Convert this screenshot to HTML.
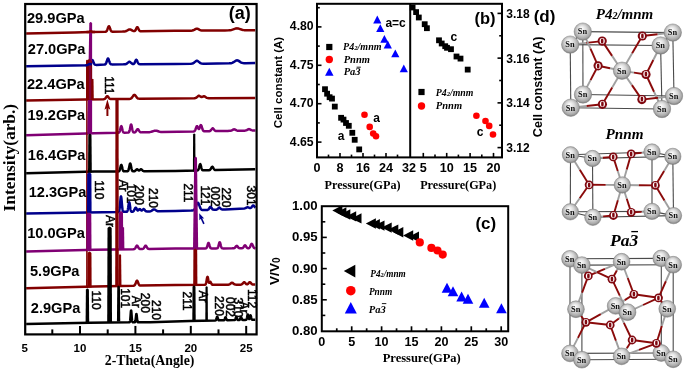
<!DOCTYPE html>
<html><head><meta charset="utf-8"><title>SnO2 high pressure</title>
<style>html,body{margin:0;padding:0;background:#fff;}body{width:685px;height:372px;overflow:hidden;}svg{display:block;}</style>
</head><body>
<svg width="685" height="372" viewBox="0 0 685 372">
<rect width="685" height="372" fill="#fff"/>
<polyline fill="none" stroke="#820000" stroke-width="2.5" stroke-linejoin="round" points="26.2,33.38 74.7,32.41 90.2,32 105.27,31.76 105.82,31.67 106.15,31.53 106.48,31.28 106.81,30.86 107.03,30.46 107.36,29.69 108.13,27.44 108.35,26.89 108.57,26.48 108.68,26.35 108.9,26.23 109.01,26.26 109.2,26.43 109.45,26.87 109.7,27.5 110.22,29.04 110.55,29.92 110.77,30.41 111.1,30.96 111.43,31.31 111.76,31.51 112.2,31.63 112.7,31.67 122.5,31.54 124.7,31.42 125.5,31.28 126.2,31.06 126.9,30.73 128.7,29.69 129.2,29.51 129.7,29.44 130.2,29.49 130.7,29.66 132.5,30.65 133.2,30.95 133.89,31.12 134.44,31.11 134.9,30.91 135.32,30.49 135.76,29.76 136.5,28.11 136.75,27.63 137.08,27.22 137.3,27.13 137.52,27.21 137.85,27.62 138.07,28.03 138.84,29.73 139.17,30.32 139.39,30.61 139.7,30.91 140.05,31.11 140.49,31.22 141.04,31.27 174.7,30.8 191.1,30.65 192.3,30.53 193.2,30.3 194.1,29.91 195.9,28.88 196.5,28.68 196.9,28.64 197.3,28.67 197.9,28.87 199.7,29.87 200.7,30.28 201.7,30.49 202.9,30.57 224.84,30.43 228.7,30.33 229.96,30.22 231.24,29.99 232.52,29.62 235.4,28.59 236.2,28.41 237,28.34 237.7,28.38 238.6,28.56 242.12,29.75 243.08,29.97 244.2,30.13 246.92,30.25 255.2,30.21"/>
<polyline fill="none" stroke="#00008c" stroke-width="2.5" stroke-linejoin="round" points="26.2,66.28 88.67,65.15 89.2,65.06 89.55,64.92 89.88,64.69 90.2,64.31 90.43,63.93 90.7,63.37 91.53,61.16 91.75,60.65 91.97,60.28 92.08,60.15 92.3,60.04 92.52,60.13 92.7,60.35 92.85,60.61 93.07,61.1 93.84,63.11 94.06,63.59 94.28,63.98 94.7,64.49 95.16,64.77 95.6,64.87 96.37,64.89 104.26,64.59 104.81,64.5 105.25,64.31 105.58,64.03 105.91,63.56 106.2,62.97 106.46,62.28 107.2,59.9 107.45,59.2 107.7,58.7 107.89,58.51 108,58.47 108.22,58.58 108.33,58.72 108.55,59.16 108.77,59.75 109.32,61.5 109.65,62.46 109.87,62.99 110.2,63.59 110.53,63.97 110.86,64.19 111.3,64.33 111.85,64.38 123.48,64.31 125.24,64.22 125.88,64.08 126.52,63.8 127.16,63.36 128.6,62.08 129.08,61.83 129.4,61.78 129.72,61.83 130.2,62.07 131.64,63.33 132.23,63.74 132.89,63.99 133.44,64 133.88,63.8 134.1,63.61 134.36,63.28 134.76,62.55 135.48,60.83 135.75,60.27 136.08,59.83 136.3,59.74 136.52,59.83 136.7,60.02 136.85,60.26 137.07,60.71 137.7,62.23 137.95,62.77 138.2,63.21 138.5,63.62 138.83,63.9 139.16,64.07 140.15,64.2 175.2,64 190.9,63.79 192.2,63.62 193.2,63.26 194.1,62.66 195.9,61.12 196.5,60.82 196.9,60.76 197.3,60.81 197.9,61.1 199.7,62.6 200.5,63.12 201.5,63.49 202.5,63.63 205.2,63.66 229.2,63.37 231,63.21 232.25,62.87 233.5,62.22 235.75,60.68 236.5,60.38 237,60.31 237.7,60.42 238.25,60.65 240.5,62.15 241.25,62.56 242,62.85 243,63.08 244,63.17 245.5,63.21 255.2,63.11"/>
<polyline fill="none" stroke="#820000" stroke-width="2.5" stroke-linejoin="round" points="26.2,100.58 84.7,99.41 103.46,99.18 104.3,99.05 104.66,98.91 105.02,98.68 105.62,98.04 106.7,96.51 107.06,96.21 107.3,96.15 107.54,96.21 107.9,96.5 108.98,98.01 109.46,98.53 110.06,98.91 110.66,99.06 112.2,99.1 129.2,98.89 130.4,98.72 130.88,98.53 131.36,98.23 131.7,97.92 132.16,97.37 133.2,95.85 133.6,95.33 134.08,94.93 134.4,94.85 134.72,94.93 135.2,95.31 135.52,95.71 136.7,97.4 137.12,97.88 137.44,98.16 137.92,98.46 138.4,98.63 139.68,98.78 174.7,98.4 194.1,98.28 195.06,98.16 195.86,97.89 196.66,97.35 198.1,96.08 198.56,95.83 198.9,95.77 199.2,95.8 199.52,95.92 200.82,96.78 201.46,97.01 202.1,96.94 203.54,96.3 204,96.24 204.32,96.29 204.96,96.58 206.2,97.47 206.88,97.85 207.7,98.1 208.8,98.21 255.2,98"/>
<polyline fill="none" stroke="#800074" stroke-width="2.5" stroke-linejoin="round" points="26.2,135.17 94.7,133.21 118.24,132.77 118.7,132.68 119.05,132.49 119.32,132.19 119.59,131.68 119.77,131.21 120.04,130.28 120.67,127.58 120.85,126.92 121.03,126.43 121.12,126.27 121.3,126.14 121.48,126.27 121.57,126.43 121.75,126.91 121.93,127.56 122.56,130.24 122.83,131.16 123.1,131.82 123.28,132.12 123.46,132.33 123.82,132.56 124.36,132.67 128.04,132.6 128.49,132.49 128.85,132.25 129.12,131.88 129.39,131.27 129.57,130.69 129.84,129.55 130.02,128.64 130.47,126.24 130.65,125.43 130.83,124.83 130.92,124.63 131.1,124.47 131.28,124.63 131.37,124.82 131.55,125.41 131.73,126.22 132.18,128.61 132.36,129.51 132.63,130.63 132.81,131.21 133.08,131.81 133.35,132.17 133.7,132.39 134.07,132.45 134.82,132.32 135.42,131.95 135.7,131.66 136.02,131.24 136.86,129.88 137.1,129.55 137.46,129.22 137.7,129.15 137.94,129.21 138.3,129.53 138.54,129.86 139.38,131.18 139.7,131.59 139.98,131.87 140.34,132.11 140.7,132.26 141.54,132.37 147.4,132.27 149.7,132.13 151.4,131.8 154.2,130.83 155.4,130.64 155.9,130.66 156.65,130.8 158.9,131.52 159.9,131.77 160.9,131.91 162.2,131.99 193.48,131.47 193.92,131.39 194.25,131.26 194.58,131.01 194.91,130.61 195.2,130.09 195.46,129.48 196.2,127.39 196.45,126.78 196.67,126.38 196.83,126.21 197.05,126.14 197.33,126.34 197.6,126.8 198.2,128.19 198.43,128.64 198.7,128.96 198.92,129.01 199.14,128.86 199.42,128.39 199.69,127.7 200.24,126.06 200.46,125.54 200.68,125.19 200.9,125.07 201.01,125.11 201.18,125.28 201.45,125.81 201.7,126.53 202.44,129 202.7,129.7 202.99,130.31 203.32,130.79 203.65,131.06 203.98,131.21 204.42,131.29 208.62,131.25 209.34,131.19 209.82,131.08 210.3,130.84 210.66,130.54 211.02,130.13 212.1,128.65 212.46,128.36 212.7,128.29 212.94,128.35 213.3,128.63 214.38,130.08 214.98,130.68 215.58,130.99 216.42,131.11 227.76,130.95 229.84,130.87 230.64,130.74 231.2,130.57 231.76,130.33 233.2,129.54 233.68,129.39 234,129.35 234.7,129.48 236.56,130.39 237.7,130.69 239.28,130.76 244.36,130.66 245.32,130.56 246.12,130.36 246.76,130.09 248.2,129.3 248.68,129.15 249,129.11 249.32,129.14 249.8,129.28 251.4,130.09 252.36,130.39 253.48,130.51 255.4,130.51"/>
<polyline fill="none" stroke="#000000" stroke-width="2.5" stroke-linejoin="round" points="26.2,173.27 94.7,171.61 118.24,171.41 118.7,171.32 119.05,171.13 119.32,170.84 119.59,170.35 119.77,169.88 120.04,168.97 120.67,166.32 120.85,165.67 121.03,165.19 121.12,165.03 121.3,164.9 121.48,165.03 121.57,165.19 121.7,165.51 121.93,166.31 122.47,168.6 122.74,169.58 123.01,170.32 123.19,170.67 123.37,170.93 123.73,171.21 124.2,171.34 127.14,171.33 127.59,171.24 127.95,171.01 128.22,170.66 128.49,170.07 128.7,169.4 128.94,168.42 129.57,165.24 129.75,164.46 129.93,163.88 130.02,163.69 130.2,163.54 130.38,163.69 130.47,163.88 130.65,164.45 130.83,165.23 131.28,167.53 131.55,168.79 131.73,169.49 132,170.27 132.27,170.77 132.54,171.05 132.9,171.23 133.35,171.29 134.25,171.22 134.91,170.97 135.46,170.55 136.45,169.52 136.71,169.35 137,169.28 137.44,169.42 138.47,170.31 138.76,170.46 138.98,170.5 139.24,170.46 139.53,170.31 140.63,169.36 140.89,169.26 141.18,169.28 141.66,169.58 142.54,170.49 143.09,170.91 143.75,171.15 144.63,171.22 175.2,171 197.2,170.48 197.59,170.4 197.95,170.21 198.22,169.92 198.49,169.44 198.7,168.9 198.94,168.1 199.57,165.52 199.75,164.89 199.93,164.42 200.02,164.27 200.2,164.14 200.38,164.26 200.47,164.41 200.65,164.87 200.83,165.49 201.46,168.05 201.7,168.84 201.91,169.37 202.18,169.84 202.45,170.11 202.72,170.26 203.17,170.35 208.34,170.25 209.11,170.19 209.55,170.08 209.99,169.85 210.43,169.41 210.76,168.93 211.53,167.53 211.75,167.18 212.08,166.84 212.3,166.77 212.52,166.83 212.85,167.16 213.07,167.49 213.84,168.86 214.17,169.33 214.39,169.57 214.94,169.92 215.71,170.07 255.2,169.22"/>
<polyline fill="none" stroke="#00008c" stroke-width="2.5" stroke-linejoin="round" points="26.2,213.58 118.2,211.96 118.6,211.81 118.76,211.68 118.92,211.45 119.16,210.88 119.32,210.27 119.4,209.88 119.56,208.9 119.64,208.31 119.8,206.93 119.88,206.15 120.04,204.42 120.28,201.62 120.44,199.82 120.52,199.01 120.6,198.27 120.7,197.5 120.76,197.13 120.84,196.75 120.92,196.52 121,196.44 121.08,196.52 121.2,196.92 121.32,197.63 121.4,198.26 121.48,198.99 121.56,199.8 121.7,201.36 121.96,204.38 122.12,206.11 122.2,206.89 122.36,208.27 122.44,208.85 122.6,209.82 122.7,210.29 122.84,210.81 123.08,211.38 123.24,211.6 123.4,211.73 123.88,211.87 126.56,211.81 127.04,211.59 127.2,211.41 127.36,211.15 127.52,210.77 127.68,210.25 127.84,209.56 127.92,209.15 128.16,207.7 128.64,204.3 128.8,203.34 128.88,202.95 128.96,202.63 129.04,202.39 129.12,202.25 129.2,202.2 129.28,202.25 129.36,202.39 129.44,202.62 129.6,203.32 129.76,204.28 130.2,207.39 130.4,208.66 130.56,209.51 130.7,210.12 130.8,210.47 131.04,211.09 131.28,211.44 131.6,211.65 131.96,211.72 132.51,211.68 132.95,211.56 133.28,211.37 133.61,211.07 133.83,210.78 134.16,210.21 134.93,208.57 135.15,208.17 135.41,207.83 135.7,207.68 135.92,207.76 136.18,208.03 136.4,208.38 137.2,209.89 137.46,210.23 137.72,210.42 137.94,210.45 138.23,210.34 138.49,210.11 139.22,209.33 139.48,209.16 139.7,209.11 139.92,209.15 140.19,209.32 140.96,210.16 141.24,210.4 141.51,210.53 141.79,210.52 142.23,210.24 143.16,209.23 143.44,209.07 143.66,209.05 143.88,209.12 144.15,209.33 145.2,210.65 145.69,211.1 146.24,211.36 147.01,211.47 149.36,211.42 150.64,211.21 151.6,210.76 153.2,209.62 153.68,209.41 154,209.37 154.32,209.4 154.8,209.59 156.24,210.58 157.04,210.99 157.84,211.19 158.8,211.26 175.2,210.99 191.2,210.48 192.7,210.39 193.48,210.21 193.96,209.97 194.44,209.55 194.76,209.13 195.2,208.35 195.56,207.53 196.68,204.44 197,203.68 197.2,203.3 197.48,202.93 197.8,202.77 197.96,202.8 198.2,202.99 198.44,203.33 198.6,203.63 198.92,204.36 200.04,207.38 200.52,208.42 200.84,208.94 201.2,209.38 201.64,209.73 202.12,209.94 202.76,210.05 203.88,210.07 206.65,209.98 207.31,209.92 207.86,209.78 208.3,209.53 208.63,209.22 208.96,208.79 209.95,207.23 210.2,206.98 210.5,206.86 210.72,206.92 211.05,207.2 212.04,208.69 212.59,209.3 213.2,209.63 214.02,209.73 216,209.67 216.88,209.48 217.32,209.25 217.65,208.99 218.75,207.84 219.08,207.63 219.3,207.58 219.52,207.61 219.85,207.8 220.84,208.78 221.39,209.19 221.94,209.39 222.71,209.46 225.2,209.39 244.31,208.39 244.97,208.3 245.52,208.14 246.95,207.38 247.5,207.24 248.05,207.33 249.46,207.93 250.23,207.99 250.78,207.84 251.22,207.55 251.66,207.08 252.65,205.77 252.98,205.51 253.2,205.44 253.42,205.48 253.7,205.66 253.97,205.95 254.85,207.05 255.18,207.35 255.51,207.55"/>
<polyline fill="none" stroke="#800074" stroke-width="2.5" stroke-linejoin="round" points="26.2,251.57 94.7,249.81 133.26,249.17 134.25,249.01 134.58,248.85 134.91,248.58 135.2,248.23 135.46,247.83 136.2,246.44 136.45,246.04 136.7,245.75 137,245.62 137.22,245.68 137.55,246.02 137.77,246.37 138.54,247.78 138.87,248.26 139.09,248.51 139.42,248.77 139.7,248.9 140.52,249.04 142.3,248.99 142.85,248.88 143.2,248.71 143.62,248.36 143.95,247.93 145.05,246.07 145.38,245.75 145.6,245.68 145.82,245.74 146.15,246.06 146.37,246.38 147.2,247.81 147.69,248.4 148.02,248.64 148.35,248.79 149.12,248.9 175.2,248.5 205.35,248.41 205.8,248.36 206.16,248.24 206.43,248.03 206.7,247.68 206.97,247.12 207.2,246.48 207.87,244.11 208.05,243.56 208.2,243.22 208.32,243.03 208.5,242.92 208.7,243.05 208.95,243.56 209.2,244.35 209.7,246.15 210.03,247.12 210.21,247.51 210.39,247.81 210.75,248.17 211.11,248.33 211.7,248.4 216.55,248.38 217,248.33 217.36,248.18 217.63,247.95 217.9,247.55 218.17,246.93 218.35,246.38 218.62,245.37 219.07,243.54 219.25,242.92 219.43,242.46 219.52,242.31 219.7,242.19 219.88,242.31 219.97,242.46 220.15,242.92 220.33,243.54 220.96,246.06 221.2,246.84 221.41,247.37 221.59,247.7 221.86,248.04 222.13,248.22 222.49,248.33 223.3,248.38 232.2,248.36 233.73,248.29 234.28,248.13 234.72,247.86 235.16,247.41 236.15,246.14 236.48,245.9 236.7,245.85 236.92,245.9 237.2,246.09 238.46,247.65 238.79,247.93 239.12,248.12 240,248.31 241.81,248.29 242.47,248.12 243.02,247.74 243.46,247.21 244.45,245.68 244.7,245.44 245,245.33 245.22,245.39 245.55,245.68 246.54,247.2 247.09,247.83 247.41,248.05 247.74,248.18 248.52,248.23 248.85,248.15 249.17,248 249.4,247.81 249.7,247.45 249.94,247.06 250.16,246.63 250.93,244.79 251.15,244.34 251.48,243.9 251.7,243.81 251.92,243.9 252.25,244.34 252.47,244.79 253.02,246.12 253.35,246.85 253.57,247.25 253.9,247.7 254.2,247.96 254.56,248.15 255.55,248.29"/>
<polyline fill="none" stroke="#820000" stroke-width="2.5" stroke-linejoin="round" points="26.2,288.27 94.7,286.41 133.26,285.72 133.81,285.65 134.25,285.49 134.58,285.26 134.91,284.88 135.2,284.39 135.46,283.82 136.2,281.84 136.45,281.26 136.7,280.85 136.89,280.69 137,280.66 137.22,280.76 137.33,280.88 137.55,281.24 137.77,281.74 138.54,283.76 138.87,284.45 139.09,284.81 139.42,285.18 139.7,285.37 140.08,285.51 140.52,285.57 175.2,285 204.62,284.84 205.1,284.76 205.42,284.58 205.66,284.28 205.9,283.76 206.14,282.96 206.3,282.25 206.54,280.95 206.94,278.58 207.1,277.78 207.2,277.38 207.34,277 207.5,276.83 207.66,276.98 207.82,277.43 207.9,277.74 208.06,278.52 208.46,280.73 208.62,281.5 208.78,282.12 208.86,282.35 209.02,282.68 209.18,282.82 209.34,282.8 209.5,282.66 210.06,281.91 210.22,281.82 210.38,281.83 210.54,281.95 210.7,282.17 211.42,283.69 211.74,284.22 212.14,284.6 212.62,284.77 213.5,284.81 225.7,284.75 228.22,284.68 228.92,284.56 229.48,284.34 230.04,283.98 231.3,282.96 231.7,282.77 232,282.72 232.56,282.87 232.98,283.15 234.24,284.15 234.7,284.39 235.22,284.56 236.62,284.69 240.7,284.64 241.44,284.49 242.04,284.17 242.52,283.73 243.6,282.45 243.96,282.21 244.2,282.16 244.44,282.21 244.8,282.45 245.84,283.66 246.24,284.03 246.68,284.27 247.08,284.31 247.44,284.22 247.8,283.99 248.2,283.6 249.2,282.43 249.56,282.18 249.8,282.13 250.04,282.18 250.4,282.42 251.6,283.81 251.96,284.13 252.32,284.34 252.8,284.51 253.28,284.58 255.2,284.6"/>
<polyline fill="none" stroke="#000000" stroke-width="2.5" stroke-linejoin="round" points="26.2,323.88 89.7,322.81 129.3,322.29 129.6,322.17 129.8,321.9 129.95,321.46 130.05,321 130.1,320.7 130.2,319.96 130.25,319.52 130.35,318.47 130.5,316.55 130.75,313.06 130.85,311.88 130.9,311.4 130.95,311.01 131,310.73 131.05,310.55 131.1,310.49 131.15,310.55 131.2,310.73 131.25,311.01 131.3,311.4 131.35,311.88 131.45,313.06 131.7,316.55 131.85,318.46 131.95,319.51 132,319.95 132.1,320.69 132.15,320.99 132.25,321.45 132.35,321.77 132.45,321.98 132.65,322.19 132.95,322.27 134.7,322.25 135,322.11 135.2,321.81 135.3,321.54 135.4,321.15 135.55,320.32 135.7,319.16 135.8,318.23 136.05,315.77 136.15,314.94 136.25,314.33 136.3,314.13 136.35,314.01 136.4,313.97 136.45,314.01 136.5,314.13 136.55,314.33 136.65,314.94 136.75,315.77 137,318.22 137.15,319.57 137.25,320.31 137.4,321.14 137.55,321.67 137.75,322.04 137.95,322.19 138.3,322.25 150.2,322.19 189.7,320.91 215.1,320.44 215.64,320.31 215.82,320.17 216,319.93 216.18,319.55 216.3,319.22 216.78,317.52 216.9,317.15 217.08,316.78 217.2,316.71 217.32,316.78 217.5,317.13 217.62,317.5 218.04,319 218.2,319.46 218.34,319.78 218.52,320.05 218.7,320.22 219.12,320.35 223.22,320.29 223.94,320.18 224.2,319.99 224.42,319.68 224.66,319.14 225.2,317.61 225.38,317.32 225.5,317.25 225.62,317.31 225.8,317.6 226.34,319.11 226.58,319.64 226.88,320.02 227.24,320.18 233.9,320.1 234.68,320.01 234.98,319.82 235.22,319.48 235.46,318.95 236,317.42 236.18,317.12 236.3,317.06 236.42,317.12 236.6,317.41 237.2,319.07 237.38,319.44 237.62,319.77 237.86,319.93 238.1,319.99 239.14,319.98 239.56,319.83 239.86,319.5 240.16,318.86 240.7,317.33 240.88,317.03 241,316.97 241.12,317.03 241.3,317.32 241.84,318.83 242.02,319.25 242.2,319.54 242.44,319.78 242.7,319.89 243.04,319.93 245.64,319.88 246,319.82 246.24,319.69 246.42,319.49 246.6,319.14 246.78,318.59 246.9,318.11 247.08,317.23 247.38,315.63 247.5,315.09 247.62,314.69 247.68,314.56 247.8,314.45 247.92,314.55 247.98,314.68 248.1,315.08 248.22,315.61 248.58,317.49 248.76,318.26 248.94,318.79 249.12,319.03 249.3,318.98 249.48,318.65 249.7,317.93 250.08,316.28 250.2,315.83 250.38,315.39 250.5,315.3 250.62,315.39 250.7,315.54 250.8,315.82 250.92,316.27 251.34,318.1 251.52,318.72 251.7,319.17 251.94,319.52 252.2,319.69 252.54,319.75 255.2,319.71"/>
<path d="M86.1,288 L86.15,60.25 Q86.9,59.05 87.65,60.25 L87.7,288 Z" fill="#820000"/>
<path d="M89.3,23.4 Q90.7,20.6 92.1,23.4 L92.1,134 L87.3,134 Z" fill="#800074"/>
<path d="M86.5,32.1 L89,32.0 Q90.8,30.6 92.5,31.9 L95,31.9" fill="none" stroke="#820000" stroke-width="2.5"/>
<path d="M86,100 L86.2,61.5 Q89.1,56.86 92,61.5 L92.2,100 Z" fill="#820000"/>
<rect x="88.9" y="60.5" width="2.5" height="39" fill="#800074" opacity="0.45"/>
<path d="M91.4,100 L91.7,79.5 Q92.6,78.06 93.5,79.5 L93.8,100 Z" fill="#820000"/>
<path d="M85.5,65.3 L87.5,65.1 Q89.8,63.2 92,64.6" fill="none" stroke="#00008c" stroke-width="2.5"/>
<path d="M88,172.5 L88.3,135.1 Q89.9,132.54 91.5,135.1 L91.8,172.5 Z" fill="#000000"/>
<path d="M87,212.5 L87.2,174.1 Q89.3,170.74 91.4,174.1 L91.6,212.5 Z" fill="#00008c"/>
<path d="M86.3,251 L86.5,214.4 Q88.9,210.56 91.3,214.4 L91.5,251 Z" fill="#800074"/>
<path d="M87.35,287.5 L87.55,252.95 Q89.5,249.83 91.45,252.95 L91.65,287.5 Z" fill="#820000"/>
<path d="M85.6,322.5 L85.9,289.8 Q87.4,287.4 88.9,289.8 L89.2,322.5 Z" fill="#000000"/>
<path d="M107.2,322 L107.5,228.1 Q109.6,224.74 111.7,228.1 L112,322 Z" fill="#000000"/>
<path d="M115.2,286 L115.4,99.2 Q117,96.64 118.6,99.2 L118.8,286 Z" fill="#820000"/>
<path d="M118.5,286 L118.9,255.1 Q120,253.34 121.1,255.1 L121.5,286 Z" fill="#820000"/>
<path d="M118.7,250 L119,212.5 Q121,209.3 123,212.5 L123.3,250 Z" fill="#800074"/>
<path d="M122,250 L122.3,227.7 Q123.2,226.26 124.1,227.7 L124.4,250 Z" fill="#800074"/>
<path d="M116.95,321.5 L117.25,286.75 Q118.6,284.59 119.95,286.75 L120.25,321.5 Z" fill="#000000"/>
<path d="M192.9,171.5 L193.1,134.5 Q194.2,132.74 195.3,134.5 L195.5,171.5 Z" fill="#000000"/>
<path d="M193,249.5 L194.2,157.9 Q195.6,155.66 197,157.9 L198.2,249.5 Z" fill="#800074"/>
<path d="M193.2,285.5 L193.4,249.9 Q195.3,246.86 197.2,249.9 L197.4,285.5 Z" fill="#820000"/>
<path d="M192.3,320.5 L192.5,286.8 Q194,284.4 195.5,286.8 L195.7,320.5 Z" fill="#000000"/>
<path d="M205.3,320.5 L205.5,287.1 Q206.6,285.34 207.7,287.1 L207.9,320.5 Z" fill="#000000"/>
<rect x="25.2" y="4" width="231.4" height="330.4" fill="none" stroke="#000" stroke-width="2.2"/>
<line x1="80" y1="334.4" x2="80" y2="325.9" stroke="#000" stroke-width="2" stroke-linecap="butt"/>
<line x1="135.4" y1="334.4" x2="135.4" y2="325.9" stroke="#000" stroke-width="2" stroke-linecap="butt"/>
<line x1="190.8" y1="334.4" x2="190.8" y2="325.9" stroke="#000" stroke-width="2" stroke-linecap="butt"/>
<line x1="246.2" y1="334.4" x2="246.2" y2="325.9" stroke="#000" stroke-width="2" stroke-linecap="butt"/>
<line x1="52.3" y1="334.4" x2="52.3" y2="329.4" stroke="#000" stroke-width="2" stroke-linecap="butt"/>
<line x1="107.7" y1="334.4" x2="107.7" y2="329.4" stroke="#000" stroke-width="2" stroke-linecap="butt"/>
<line x1="163.1" y1="334.4" x2="163.1" y2="329.4" stroke="#000" stroke-width="2" stroke-linecap="butt"/>
<line x1="218.5" y1="334.4" x2="218.5" y2="329.4" stroke="#000" stroke-width="2" stroke-linecap="butt"/>
<text x="24.6" y="351.5" font-family="'Liberation Sans', Arial, sans-serif" font-size="11.5" font-weight="bold" font-style="normal" text-anchor="middle" fill="#000">5</text>
<text x="80" y="351.5" font-family="'Liberation Sans', Arial, sans-serif" font-size="11.5" font-weight="bold" font-style="normal" text-anchor="middle" fill="#000">10</text>
<text x="135.4" y="351.5" font-family="'Liberation Sans', Arial, sans-serif" font-size="11.5" font-weight="bold" font-style="normal" text-anchor="middle" fill="#000">15</text>
<text x="190.8" y="351.5" font-family="'Liberation Sans', Arial, sans-serif" font-size="11.5" font-weight="bold" font-style="normal" text-anchor="middle" fill="#000">20</text>
<text x="246.2" y="351.5" font-family="'Liberation Sans', Arial, sans-serif" font-size="11.5" font-weight="bold" font-style="normal" text-anchor="middle" fill="#000">25</text>
<text x="149.6" y="364.7" font-family="'Liberation Serif', 'Times New Roman', serif" font-size="13.8" font-weight="bold" font-style="normal" text-anchor="middle" fill="#000">2-Theta(Angle)</text>
<text x="14.8" y="157.7" font-family="'Liberation Serif', 'Times New Roman', serif" font-size="17.4" font-weight="bold" font-style="normal" text-anchor="middle" fill="#000" transform="rotate(-90 14.8 157.7)">Intensity(arb.)</text>
<text x="239.8" y="18.8" font-family="'Liberation Sans', Arial, sans-serif" font-size="18" font-weight="bold" font-style="normal" text-anchor="middle" fill="#000">(a)</text>
<text x="27" y="23.4" font-family="'Liberation Sans', Arial, sans-serif" font-size="14.6" font-weight="bold" font-style="normal" text-anchor="start" fill="#000">29.9GPa</text>
<text x="27.8" y="53.8" font-family="'Liberation Sans', Arial, sans-serif" font-size="14.6" font-weight="bold" font-style="normal" text-anchor="start" fill="#000">27.0GPa</text>
<text x="27" y="88.8" font-family="'Liberation Sans', Arial, sans-serif" font-size="14.6" font-weight="bold" font-style="normal" text-anchor="start" fill="#000">22.4GPa</text>
<text x="27.5" y="120.2" font-family="'Liberation Sans', Arial, sans-serif" font-size="14.6" font-weight="bold" font-style="normal" text-anchor="start" fill="#000">19.2GPa</text>
<text x="27.8" y="159.8" font-family="'Liberation Sans', Arial, sans-serif" font-size="14.6" font-weight="bold" font-style="normal" text-anchor="start" fill="#000">16.4GPa</text>
<text x="28.7" y="196.8" font-family="'Liberation Sans', Arial, sans-serif" font-size="14.6" font-weight="bold" font-style="normal" text-anchor="start" fill="#000">12.3GPa</text>
<text x="27.2" y="238" font-family="'Liberation Sans', Arial, sans-serif" font-size="14.6" font-weight="bold" font-style="normal" text-anchor="start" fill="#000">10.0GPa</text>
<text x="30" y="275.8" font-family="'Liberation Sans', Arial, sans-serif" font-size="14.6" font-weight="bold" font-style="normal" text-anchor="start" fill="#000">5.9GPa</text>
<text x="30.8" y="313.2" font-family="'Liberation Sans', Arial, sans-serif" font-size="14.6" font-weight="bold" font-style="normal" text-anchor="start" fill="#000">2.9GPa</text>
<text x="0" y="0" font-family="'Liberation Sans', Arial, sans-serif" font-size="12" stroke="#000" stroke-width="0.5" transform="translate(105 76.3) rotate(90)">111</text>
<text x="0" y="0" font-family="'Liberation Sans', Arial, sans-serif" font-size="12" stroke="#000" stroke-width="0.5" transform="translate(95 180.3) rotate(90)">110</text>
<text x="0" y="0" font-family="'Liberation Sans', Arial, sans-serif" font-size="12" stroke="#000" stroke-width="0.5" transform="translate(118.7 179.6) rotate(90)">Ar</text>
<text x="0" y="0" font-family="'Liberation Sans', Arial, sans-serif" font-size="12" stroke="#000" stroke-width="0.5" transform="translate(126.5 183.5) rotate(90)">101</text>
<text x="0" y="0" font-family="'Liberation Sans', Arial, sans-serif" font-size="12" stroke="#000" stroke-width="0.5" transform="translate(135.3 184.9) rotate(90)">200</text>
<text x="0" y="0" font-family="'Liberation Sans', Arial, sans-serif" font-size="12" stroke="#000" stroke-width="0.5" transform="translate(148.9 188) rotate(90)">210</text>
<text x="0" y="0" font-family="'Liberation Sans', Arial, sans-serif" font-size="12" stroke="#000" stroke-width="0.5" transform="translate(184 183.4) rotate(90)">211</text>
<text x="0" y="0" font-family="'Liberation Sans', Arial, sans-serif" font-size="12" stroke="#000" stroke-width="0.5" transform="translate(200.8 185.4) rotate(90)">121</text>
<text x="0" y="0" font-family="'Liberation Sans', Arial, sans-serif" font-size="12" stroke="#000" stroke-width="0.5" transform="translate(211 186.6) rotate(90)">002</text>
<text x="0" y="0" font-family="'Liberation Sans', Arial, sans-serif" font-size="12" stroke="#000" stroke-width="0.5" transform="translate(221.7 187.4) rotate(90)">220</text>
<text x="0" y="0" font-family="'Liberation Sans', Arial, sans-serif" font-size="12" stroke="#000" stroke-width="0.5" transform="translate(247.1 185.6) rotate(90)">301</text>
<text x="0" y="0" font-family="'Liberation Sans', Arial, sans-serif" font-size="12" stroke="#000" stroke-width="0.5" transform="translate(105.5 215) rotate(90)">Ar</text>
<text x="0" y="0" font-family="'Liberation Sans', Arial, sans-serif" font-size="12" stroke="#000" stroke-width="0.5" transform="translate(91.6 290.6) rotate(90)">110</text>
<text x="0" y="0" font-family="'Liberation Sans', Arial, sans-serif" font-size="12" stroke="#000" stroke-width="0.5" transform="translate(121.4 288.2) rotate(90)">101</text>
<text x="0" y="0" font-family="'Liberation Sans', Arial, sans-serif" font-size="12" stroke="#000" stroke-width="0.5" transform="translate(132 295.8) rotate(90)">Ar</text>
<text x="0" y="0" font-family="'Liberation Sans', Arial, sans-serif" font-size="12" stroke="#000" stroke-width="0.5" transform="translate(141 292.8) rotate(90)">200</text>
<text x="0" y="0" font-family="'Liberation Sans', Arial, sans-serif" font-size="12" stroke="#000" stroke-width="0.5" transform="translate(152.3 300) rotate(90)">210</text>
<text x="0" y="0" font-family="'Liberation Sans', Arial, sans-serif" font-size="12" stroke="#000" stroke-width="0.5" transform="translate(182.6 291.6) rotate(90)">211</text>
<text x="0" y="0" font-family="'Liberation Sans', Arial, sans-serif" font-size="12" stroke="#000" stroke-width="0.5" transform="translate(198.8 290.6) rotate(90)">Ar</text>
<text x="0" y="0" font-family="'Liberation Sans', Arial, sans-serif" font-size="12" stroke="#000" stroke-width="0.5" transform="translate(214.8 295.9) rotate(90)">220</text>
<text x="0" y="0" font-family="'Liberation Sans', Arial, sans-serif" font-size="12" stroke="#000" stroke-width="0.5" transform="translate(225.6 297) rotate(90)">002</text>
<text x="0" y="0" font-family="'Liberation Sans', Arial, sans-serif" font-size="12" stroke="#000" stroke-width="0.5" transform="translate(233.6 297.5) rotate(90)">310</text>
<text x="0" y="0" font-family="'Liberation Sans', Arial, sans-serif" font-size="12" stroke="#000" stroke-width="0.5" transform="translate(239.8 301.5) rotate(90)">Ar</text>
<text x="0" y="0" font-family="'Liberation Sans', Arial, sans-serif" font-size="12" stroke="#000" stroke-width="0.5" transform="translate(248.3 289) rotate(90)">112</text>
<line x1="107.4" y1="106" x2="107.4" y2="116" stroke="#820000" stroke-width="2"/>
<polygon points="107.4,99.2 110.3,109.8 107.4,107.8 104.5,109.8" fill="#820000"/>
<line x1="203.9" y1="223.9" x2="201" y2="217.5" stroke="#00008c" stroke-width="1.6"/>
<polygon points="199.2,213.3 204.2,218.6 201.4,218.2 199.4,220.2" fill="#00008c"/>
<rect x="317" y="3.8" width="185" height="153.6" fill="none" stroke="#000" stroke-width="2"/>
<line x1="410.2" y1="3.8" x2="410.2" y2="157.4" stroke="#000" stroke-width="2" stroke-linecap="butt"/>
<line x1="340" y1="157.4" x2="340" y2="152.9" stroke="#000" stroke-width="1.6" stroke-linecap="butt"/>
<line x1="363" y1="157.4" x2="363" y2="152.9" stroke="#000" stroke-width="1.6" stroke-linecap="butt"/>
<line x1="386" y1="157.4" x2="386" y2="152.9" stroke="#000" stroke-width="1.6" stroke-linecap="butt"/>
<line x1="328.5" y1="157.4" x2="328.5" y2="154.6" stroke="#000" stroke-width="1.6" stroke-linecap="butt"/>
<line x1="351.5" y1="157.4" x2="351.5" y2="154.6" stroke="#000" stroke-width="1.6" stroke-linecap="butt"/>
<line x1="374.5" y1="157.4" x2="374.5" y2="154.6" stroke="#000" stroke-width="1.6" stroke-linecap="butt"/>
<line x1="397.5" y1="157.4" x2="397.5" y2="154.6" stroke="#000" stroke-width="1.6" stroke-linecap="butt"/>
<line x1="317" y1="26.9" x2="321.5" y2="26.9" stroke="#000" stroke-width="1.6" stroke-linecap="butt"/>
<line x1="317" y1="65.3" x2="321.5" y2="65.3" stroke="#000" stroke-width="1.6" stroke-linecap="butt"/>
<line x1="317" y1="103.7" x2="321.5" y2="103.7" stroke="#000" stroke-width="1.6" stroke-linecap="butt"/>
<line x1="317" y1="142.1" x2="321.5" y2="142.1" stroke="#000" stroke-width="1.6" stroke-linecap="butt"/>
<line x1="317" y1="7.7" x2="319.8" y2="7.7" stroke="#000" stroke-width="1.6" stroke-linecap="butt"/>
<line x1="317" y1="46.1" x2="319.8" y2="46.1" stroke="#000" stroke-width="1.6" stroke-linecap="butt"/>
<line x1="317" y1="84.5" x2="319.8" y2="84.5" stroke="#000" stroke-width="1.6" stroke-linecap="butt"/>
<line x1="317" y1="122.9" x2="319.8" y2="122.9" stroke="#000" stroke-width="1.6" stroke-linecap="butt"/>
<text x="317" y="172.1" font-family="'Liberation Sans', Arial, sans-serif" font-size="12.6" font-weight="bold" font-style="normal" text-anchor="middle" fill="#000">0</text>
<text x="340" y="172.1" font-family="'Liberation Sans', Arial, sans-serif" font-size="12.6" font-weight="bold" font-style="normal" text-anchor="middle" fill="#000">8</text>
<text x="363" y="172.1" font-family="'Liberation Sans', Arial, sans-serif" font-size="12.6" font-weight="bold" font-style="normal" text-anchor="middle" fill="#000">16</text>
<text x="386" y="172.1" font-family="'Liberation Sans', Arial, sans-serif" font-size="12.6" font-weight="bold" font-style="normal" text-anchor="middle" fill="#000">24</text>
<text x="409" y="172.1" font-family="'Liberation Sans', Arial, sans-serif" font-size="12.6" font-weight="bold" font-style="normal" text-anchor="middle" fill="#000">32</text>
<text x="313.6" y="30.4" font-family="'Liberation Sans', Arial, sans-serif" font-size="12.2" font-weight="bold" font-style="normal" text-anchor="end" fill="#000">4.80</text>
<text x="313.6" y="68.8" font-family="'Liberation Sans', Arial, sans-serif" font-size="12.2" font-weight="bold" font-style="normal" text-anchor="end" fill="#000">4.75</text>
<text x="313.6" y="107.2" font-family="'Liberation Sans', Arial, sans-serif" font-size="12.2" font-weight="bold" font-style="normal" text-anchor="end" fill="#000">4.70</text>
<text x="313.6" y="145.6" font-family="'Liberation Sans', Arial, sans-serif" font-size="12.2" font-weight="bold" font-style="normal" text-anchor="end" fill="#000">4.65</text>
<line x1="423.3" y1="157.4" x2="423.3" y2="152.9" stroke="#000" stroke-width="1.6" stroke-linecap="butt"/>
<line x1="446.7" y1="157.4" x2="446.7" y2="152.9" stroke="#000" stroke-width="1.6" stroke-linecap="butt"/>
<line x1="470.1" y1="157.4" x2="470.1" y2="152.9" stroke="#000" stroke-width="1.6" stroke-linecap="butt"/>
<line x1="493.5" y1="157.4" x2="493.5" y2="152.9" stroke="#000" stroke-width="1.6" stroke-linecap="butt"/>
<line x1="435" y1="157.4" x2="435" y2="154.6" stroke="#000" stroke-width="1.6" stroke-linecap="butt"/>
<line x1="458.4" y1="157.4" x2="458.4" y2="154.6" stroke="#000" stroke-width="1.6" stroke-linecap="butt"/>
<line x1="481.8" y1="157.4" x2="481.8" y2="154.6" stroke="#000" stroke-width="1.6" stroke-linecap="butt"/>
<line x1="502" y1="13.4" x2="497.5" y2="13.4" stroke="#000" stroke-width="1.6" stroke-linecap="butt"/>
<line x1="502" y1="58.13" x2="497.5" y2="58.13" stroke="#000" stroke-width="1.6" stroke-linecap="butt"/>
<line x1="502" y1="102.87" x2="497.5" y2="102.87" stroke="#000" stroke-width="1.6" stroke-linecap="butt"/>
<line x1="502" y1="147.6" x2="497.5" y2="147.6" stroke="#000" stroke-width="1.6" stroke-linecap="butt"/>
<line x1="502" y1="35.77" x2="499.2" y2="35.77" stroke="#000" stroke-width="1.6" stroke-linecap="butt"/>
<line x1="502" y1="80.5" x2="499.2" y2="80.5" stroke="#000" stroke-width="1.6" stroke-linecap="butt"/>
<line x1="502" y1="125.23" x2="499.2" y2="125.23" stroke="#000" stroke-width="1.6" stroke-linecap="butt"/>
<text x="423.3" y="172.1" font-family="'Liberation Sans', Arial, sans-serif" font-size="12.6" font-weight="bold" font-style="normal" text-anchor="middle" fill="#000">5</text>
<text x="446.7" y="172.1" font-family="'Liberation Sans', Arial, sans-serif" font-size="12.6" font-weight="bold" font-style="normal" text-anchor="middle" fill="#000">10</text>
<text x="470.1" y="172.1" font-family="'Liberation Sans', Arial, sans-serif" font-size="12.6" font-weight="bold" font-style="normal" text-anchor="middle" fill="#000">15</text>
<text x="493.5" y="172.1" font-family="'Liberation Sans', Arial, sans-serif" font-size="12.6" font-weight="bold" font-style="normal" text-anchor="middle" fill="#000">20</text>
<text x="506.3" y="17.8" font-family="'Liberation Sans', Arial, sans-serif" font-size="12" font-weight="bold" font-style="normal" text-anchor="start" fill="#000">3.18</text>
<text x="506.3" y="62.53" font-family="'Liberation Sans', Arial, sans-serif" font-size="12" font-weight="bold" font-style="normal" text-anchor="start" fill="#000">3.16</text>
<text x="506.3" y="107.27" font-family="'Liberation Sans', Arial, sans-serif" font-size="12" font-weight="bold" font-style="normal" text-anchor="start" fill="#000">3.14</text>
<text x="506.3" y="152" font-family="'Liberation Sans', Arial, sans-serif" font-size="12" font-weight="bold" font-style="normal" text-anchor="start" fill="#000">3.12</text>
<text x="362.6" y="188.8" font-family="'Liberation Serif', 'Times New Roman', serif" font-size="12.2" font-weight="bold" font-style="normal" text-anchor="middle" fill="#000">Pressure(GPa)</text>
<text x="458.2" y="188.8" font-family="'Liberation Serif', 'Times New Roman', serif" font-size="12.2" font-weight="bold" font-style="normal" text-anchor="middle" fill="#000">Pressure(GPa)</text>
<text x="281.5" y="82.5" font-family="'Liberation Sans', Arial, sans-serif" font-size="11.5" font-weight="bold" font-style="normal" text-anchor="middle" fill="#000" transform="rotate(-90 281.5 82.5)">Cell constant (A)</text>
<text x="542.4" y="86.8" font-family="'Liberation Sans', Arial, sans-serif" font-size="12.7" font-weight="bold" font-style="normal" text-anchor="middle" fill="#000" transform="rotate(-90 542.4 86.8)">Cell constant (A)</text>
<text x="485" y="23.6" font-family="'Liberation Sans', Arial, sans-serif" font-size="16.5" font-weight="bold" font-style="normal" text-anchor="middle" fill="#000">(b)</text>
<text x="544.5" y="21.6" font-family="'Liberation Sans', Arial, sans-serif" font-size="17" font-weight="bold" font-style="normal" text-anchor="middle" fill="#000">(d)</text>
<text x="385.4" y="26.8" font-family="'Liberation Sans', Arial, sans-serif" font-size="12" font-weight="bold" font-style="normal" text-anchor="start" fill="#000">a=c</text>
<text x="376.7" y="122.3" font-family="'Liberation Sans', Arial, sans-serif" font-size="12" font-weight="bold" font-style="normal" text-anchor="middle" fill="#000">a</text>
<text x="341" y="140.3" font-family="'Liberation Sans', Arial, sans-serif" font-size="12" font-weight="bold" font-style="normal" text-anchor="middle" fill="#000">a</text>
<text x="453.8" y="41.2" font-family="'Liberation Sans', Arial, sans-serif" font-size="12" font-weight="bold" font-style="normal" text-anchor="middle" fill="#000">c</text>
<text x="480.2" y="135.6" font-family="'Liberation Sans', Arial, sans-serif" font-size="12" font-weight="bold" font-style="normal" text-anchor="middle" fill="#000">c</text>
<rect x="322.1" y="86.3" width="5.8" height="5.8" fill="#000"/>
<rect x="324.2" y="90.8" width="5.8" height="5.8" fill="#000"/>
<rect x="326.7" y="94.3" width="5.8" height="5.8" fill="#000"/>
<rect x="329.1" y="95.7" width="5.8" height="5.8" fill="#000"/>
<rect x="331.9" y="103.7" width="5.8" height="5.8" fill="#000"/>
<rect x="338.2" y="114.9" width="5.8" height="5.8" fill="#000"/>
<rect x="340.6" y="116.7" width="5.8" height="5.8" fill="#000"/>
<rect x="343.1" y="120.1" width="5.8" height="5.8" fill="#000"/>
<rect x="345.9" y="122.9" width="5.8" height="5.8" fill="#000"/>
<rect x="349.4" y="129.9" width="5.8" height="5.8" fill="#000"/>
<rect x="351.8" y="136.9" width="5.8" height="5.8" fill="#000"/>
<rect x="356.3" y="146.5" width="5.8" height="5.8" fill="#000"/>
<circle cx="364.5" cy="114.7" r="3.3" fill="#f00"/>
<circle cx="369.7" cy="126.9" r="3.3" fill="#f00"/>
<circle cx="373.2" cy="133.5" r="3.3" fill="#f00"/>
<circle cx="376" cy="136.3" r="3.3" fill="#f00"/>
<polygon points="377.3,15.61 381.4,23.49 373.2,23.49" fill="#00f"/>
<polygon points="380.3,24.21 384.4,32.09 376.2,32.09" fill="#00f"/>
<polygon points="384.4,34.91 388.5,42.79 380.3,42.79" fill="#00f"/>
<polygon points="387.8,40.61 391.9,48.49 383.7,48.49" fill="#00f"/>
<polygon points="395.3,49.41 399.4,57.29 391.2,57.29" fill="#00f"/>
<polygon points="403.8,64.41 407.9,72.29 399.7,72.29" fill="#00f"/>
<rect x="409.7" y="4.6" width="5.8" height="5.8" fill="#000"/>
<rect x="413.2" y="9.2" width="5.8" height="5.8" fill="#000"/>
<rect x="415.9" y="14.6" width="5.8" height="5.8" fill="#000"/>
<rect x="421.8" y="21.3" width="5.8" height="5.8" fill="#000"/>
<rect x="424" y="25.3" width="5.8" height="5.8" fill="#000"/>
<rect x="436.1" y="37.4" width="5.8" height="5.8" fill="#000"/>
<rect x="438.8" y="40.6" width="5.8" height="5.8" fill="#000"/>
<rect x="442.3" y="43.3" width="5.8" height="5.8" fill="#000"/>
<rect x="444.1" y="44.9" width="5.8" height="5.8" fill="#000"/>
<rect x="448.1" y="46.3" width="5.8" height="5.8" fill="#000"/>
<rect x="453.6" y="53.6" width="5.8" height="5.8" fill="#000"/>
<rect x="457.6" y="55.7" width="5.8" height="5.8" fill="#000"/>
<rect x="464.8" y="66.7" width="5.8" height="5.8" fill="#000"/>
<circle cx="476.4" cy="115.7" r="3.3" fill="#f00"/>
<circle cx="485.5" cy="121" r="3.3" fill="#f00"/>
<circle cx="489.2" cy="125.9" r="3.3" fill="#f00"/>
<circle cx="493" cy="134.5" r="3.3" fill="#f00"/>
<rect x="326.2" y="43.9" width="6.2" height="6.2" fill="#000"/>
<circle cx="329.3" cy="59.5" r="3.7" fill="#f00"/>
<polygon points="329.3,67.67 333.55,75.83 325.05,75.83" fill="#00f"/>
<text x="343.1" y="49.9" font-family="'Liberation Serif', 'Times New Roman', serif" font-size="10.5" font-weight="bold" font-style="italic" text-anchor="start" fill="#000" textLength="38.4" lengthAdjust="spacingAndGlyphs">P4<tspan font-size="7" dy="0.4">2</tspan><tspan dy="-0.4">/mnm</tspan></text>
<text x="343.7" y="62.5" font-family="'Liberation Serif', 'Times New Roman', serif" font-size="10.5" font-weight="bold" font-style="italic" text-anchor="start" fill="#000">Pnnm</text>
<text x="343.7" y="75" font-family="'Liberation Serif', 'Times New Roman', serif" font-size="10.5" font-weight="bold" font-style="italic" text-anchor="start" fill="#000">Pa3</text>
<line x1="356.6" y1="67.2" x2="360.8" y2="67.2" stroke="#000" stroke-width="0.9" stroke-linecap="butt"/>
<rect x="418.4" y="88.9" width="6.2" height="6.2" fill="#000"/>
<circle cx="421.5" cy="106" r="3.7" fill="#f00"/>
<text x="435.8" y="95.6" font-family="'Liberation Serif', 'Times New Roman', serif" font-size="10.5" font-weight="bold" font-style="italic" text-anchor="start" fill="#000" textLength="37.6" lengthAdjust="spacingAndGlyphs">P4<tspan font-size="7" dy="0.4">2</tspan><tspan dy="-0.4">/mnm</tspan></text>
<text x="435.8" y="108.6" font-family="'Liberation Serif', 'Times New Roman', serif" font-size="10.5" font-weight="bold" font-style="italic" text-anchor="start" fill="#000">Pnnm</text>
<rect x="321.8" y="206.2" width="186.4" height="125.1" fill="none" stroke="#000" stroke-width="2"/>
<line x1="351.7" y1="331.3" x2="351.7" y2="326.3" stroke="#000" stroke-width="1.7" stroke-linecap="butt"/>
<line x1="381.6" y1="331.3" x2="381.6" y2="326.3" stroke="#000" stroke-width="1.7" stroke-linecap="butt"/>
<line x1="411.5" y1="331.3" x2="411.5" y2="326.3" stroke="#000" stroke-width="1.7" stroke-linecap="butt"/>
<line x1="441.4" y1="331.3" x2="441.4" y2="326.3" stroke="#000" stroke-width="1.7" stroke-linecap="butt"/>
<line x1="471.3" y1="331.3" x2="471.3" y2="326.3" stroke="#000" stroke-width="1.7" stroke-linecap="butt"/>
<line x1="501.2" y1="331.3" x2="501.2" y2="326.3" stroke="#000" stroke-width="1.7" stroke-linecap="butt"/>
<line x1="336.75" y1="331.3" x2="336.75" y2="328.3" stroke="#000" stroke-width="1.7" stroke-linecap="butt"/>
<line x1="366.65" y1="331.3" x2="366.65" y2="328.3" stroke="#000" stroke-width="1.7" stroke-linecap="butt"/>
<line x1="396.55" y1="331.3" x2="396.55" y2="328.3" stroke="#000" stroke-width="1.7" stroke-linecap="butt"/>
<line x1="426.45" y1="331.3" x2="426.45" y2="328.3" stroke="#000" stroke-width="1.7" stroke-linecap="butt"/>
<line x1="456.35" y1="331.3" x2="456.35" y2="328.3" stroke="#000" stroke-width="1.7" stroke-linecap="butt"/>
<line x1="486.25" y1="331.3" x2="486.25" y2="328.3" stroke="#000" stroke-width="1.7" stroke-linecap="butt"/>
<line x1="321.8" y1="237.4" x2="326.8" y2="237.4" stroke="#000" stroke-width="1.6" stroke-linecap="butt"/>
<line x1="321.8" y1="268.6" x2="326.8" y2="268.6" stroke="#000" stroke-width="1.6" stroke-linecap="butt"/>
<line x1="321.8" y1="299.8" x2="326.8" y2="299.8" stroke="#000" stroke-width="1.6" stroke-linecap="butt"/>
<line x1="321.8" y1="221.8" x2="325.3" y2="221.8" stroke="#000" stroke-width="1.6" stroke-linecap="butt"/>
<line x1="321.8" y1="253" x2="325.3" y2="253" stroke="#000" stroke-width="1.6" stroke-linecap="butt"/>
<line x1="321.8" y1="284.2" x2="325.3" y2="284.2" stroke="#000" stroke-width="1.6" stroke-linecap="butt"/>
<line x1="321.8" y1="315.4" x2="325.3" y2="315.4" stroke="#000" stroke-width="1.6" stroke-linecap="butt"/>
<text x="321.8" y="346.3" font-family="'Liberation Sans', Arial, sans-serif" font-size="12.6" font-weight="bold" font-style="normal" text-anchor="middle" fill="#000">0</text>
<text x="351.7" y="346.3" font-family="'Liberation Sans', Arial, sans-serif" font-size="12.6" font-weight="bold" font-style="normal" text-anchor="middle" fill="#000">5</text>
<text x="381.6" y="346.3" font-family="'Liberation Sans', Arial, sans-serif" font-size="12.6" font-weight="bold" font-style="normal" text-anchor="middle" fill="#000">10</text>
<text x="411.5" y="346.3" font-family="'Liberation Sans', Arial, sans-serif" font-size="12.6" font-weight="bold" font-style="normal" text-anchor="middle" fill="#000">15</text>
<text x="441.4" y="346.3" font-family="'Liberation Sans', Arial, sans-serif" font-size="12.6" font-weight="bold" font-style="normal" text-anchor="middle" fill="#000">20</text>
<text x="471.3" y="346.3" font-family="'Liberation Sans', Arial, sans-serif" font-size="12.6" font-weight="bold" font-style="normal" text-anchor="middle" fill="#000">25</text>
<text x="501.2" y="346.3" font-family="'Liberation Sans', Arial, sans-serif" font-size="12.6" font-weight="bold" font-style="normal" text-anchor="middle" fill="#000">30</text>
<text x="317.6" y="210.1" font-family="'Liberation Sans', Arial, sans-serif" font-size="13.2" font-weight="bold" font-style="normal" text-anchor="end" fill="#000">1.00</text>
<text x="317.6" y="241.3" font-family="'Liberation Sans', Arial, sans-serif" font-size="13.2" font-weight="bold" font-style="normal" text-anchor="end" fill="#000">0.95</text>
<text x="317.6" y="272.5" font-family="'Liberation Sans', Arial, sans-serif" font-size="13.2" font-weight="bold" font-style="normal" text-anchor="end" fill="#000">0.90</text>
<text x="317.6" y="303.7" font-family="'Liberation Sans', Arial, sans-serif" font-size="13.2" font-weight="bold" font-style="normal" text-anchor="end" fill="#000">0.85</text>
<text x="317.6" y="334.9" font-family="'Liberation Sans', Arial, sans-serif" font-size="13.2" font-weight="bold" font-style="normal" text-anchor="end" fill="#000">0.80</text>
<text x="421.7" y="362.3" font-family="'Liberation Serif', 'Times New Roman', serif" font-size="12.5" font-weight="bold" font-style="normal" text-anchor="middle" fill="#000">Pressure(GPa)</text>
<text x="279" y="271.2" font-family="'Liberation Sans', Arial, sans-serif" font-size="13.6" font-weight="bold" font-style="normal" text-anchor="middle" fill="#000" transform="rotate(-90 279 271.2)">V/V<tspan font-size="10" dy="0.8">0</tspan></text>
<text x="485.8" y="228.8" font-family="'Liberation Sans', Arial, sans-serif" font-size="17" font-weight="bold" font-style="normal" text-anchor="middle" fill="#000">(c)</text>
<polygon points="332.3,210.5 342.4,205.3 342.4,215.7" fill="#000"/>
<polygon points="336.3,212.5 346.4,207.3 346.4,217.7" fill="#000"/>
<polygon points="340.2,214.5 350.3,209.3 350.3,219.7" fill="#000"/>
<polygon points="346.1,216.4 356.2,211.2 356.2,221.6" fill="#000"/>
<polygon points="351.4,218.4 361.5,213.2 361.5,223.6" fill="#000"/>
<polygon points="365.8,223.5 375.9,218.3 375.9,228.7" fill="#000"/>
<polygon points="369.8,224.3 379.9,219.1 379.9,229.5" fill="#000"/>
<polygon points="374.4,225.6 384.5,220.4 384.5,230.8" fill="#000"/>
<polygon points="381.6,227.6 391.7,222.4 391.7,232.8" fill="#000"/>
<polygon points="388.2,229.6 398.3,224.4 398.3,234.8" fill="#000"/>
<polygon points="393.2,232.2 403.3,227 403.3,237.4" fill="#000"/>
<polygon points="403.1,235.5 413.2,230.3 413.2,240.7" fill="#000"/>
<polygon points="408.9,236.8 419,231.6 419,242" fill="#000"/>
<circle cx="419.8" cy="242.4" r="4.1" fill="#f00"/>
<circle cx="431.4" cy="247.9" r="4.1" fill="#f00"/>
<circle cx="437.5" cy="250.5" r="4.1" fill="#f00"/>
<circle cx="442.7" cy="254.6" r="4.1" fill="#f00"/>
<polygon points="447,282.83 452.3,292.87 441.7,292.87" fill="#00f"/>
<polygon points="453,286.23 458.3,296.27 447.7,296.27" fill="#00f"/>
<polygon points="461.6,291.43 466.9,301.47 456.3,301.47" fill="#00f"/>
<polygon points="468,293.73 473.3,303.77 462.7,303.77" fill="#00f"/>
<polygon points="484.2,297.73 489.5,307.77 478.9,307.77" fill="#00f"/>
<polygon points="501.4,303.23 506.7,313.27 496.1,313.27" fill="#00f"/>
<polygon points="343.8,271.1 355.3,264.8 355.3,277.4" fill="#000"/>
<circle cx="350.8" cy="290.7" r="4.8" fill="#f00"/>
<polygon points="350.8,302.1 356.8,313.4 344.8,313.4" fill="#00f"/>
<text x="370.3" y="276.6" font-family="'Liberation Serif', 'Times New Roman', serif" font-size="10.5" font-weight="bold" font-style="italic" text-anchor="start" fill="#000" textLength="35.5" lengthAdjust="spacingAndGlyphs">P4<tspan font-size="7" dy="0.5">2</tspan><tspan dy="-0.5">/mnm</tspan></text>
<text x="368.9" y="294.7" font-family="'Liberation Serif', 'Times New Roman', serif" font-size="10.5" font-weight="bold" font-style="italic" text-anchor="start" fill="#000" textLength="23.4" lengthAdjust="spacingAndGlyphs">Pnnm</text>
<text x="368.8" y="312.5" font-family="'Liberation Serif', 'Times New Roman', serif" font-size="10.5" font-weight="bold" font-style="italic" text-anchor="start" fill="#000">Pa3</text>
<line x1="381.9" y1="303.6" x2="386.3" y2="303.6" stroke="#000" stroke-width="0.9" stroke-linecap="butt"/>
<defs><radialGradient id="sg" cx="0.5" cy="0.47" r="0.56" fx="0.42" fy="0.3"><stop offset="0" stop-color="#ffffff"/><stop offset="0.45" stop-color="#dadada"/><stop offset="0.8" stop-color="#aaaaaa"/><stop offset="1" stop-color="#747474"/></radialGradient></defs>
<text x="624.5" y="18.8" font-family="'Liberation Serif', 'Times New Roman', serif" font-size="15" font-weight="bold" font-style="italic" text-anchor="middle" fill="#000">P4<tspan font-size="10" dy="0.3">2</tspan><tspan dy="-0.3">/mnm</tspan></text>
<line x1="582.8" y1="31.6" x2="672.8" y2="32.6" stroke="#4a4a4a" stroke-width="1.1" stroke-linecap="butt"/>
<line x1="570.2" y1="44.6" x2="660.6" y2="45.5" stroke="#4a4a4a" stroke-width="1.1" stroke-linecap="butt"/>
<line x1="583" y1="94.5" x2="674" y2="96" stroke="#4a4a4a" stroke-width="1.1" stroke-linecap="butt"/>
<line x1="570.8" y1="107.7" x2="662" y2="109" stroke="#4a4a4a" stroke-width="1.1" stroke-linecap="butt"/>
<line x1="582.8" y1="31.6" x2="570.2" y2="44.6" stroke="#4a4a4a" stroke-width="1.1" stroke-linecap="butt"/>
<line x1="672.8" y1="32.6" x2="660.6" y2="45.5" stroke="#4a4a4a" stroke-width="1.1" stroke-linecap="butt"/>
<line x1="583" y1="94.5" x2="570.8" y2="107.7" stroke="#4a4a4a" stroke-width="1.1" stroke-linecap="butt"/>
<line x1="674" y1="96" x2="662" y2="109" stroke="#4a4a4a" stroke-width="1.1" stroke-linecap="butt"/>
<line x1="582.8" y1="31.6" x2="583" y2="94.5" stroke="#4a4a4a" stroke-width="1.1" stroke-linecap="butt"/>
<line x1="672.8" y1="32.6" x2="674" y2="96" stroke="#4a4a4a" stroke-width="1.1" stroke-linecap="butt"/>
<line x1="570.2" y1="44.6" x2="570.8" y2="107.7" stroke="#4a4a4a" stroke-width="1.1" stroke-linecap="butt"/>
<line x1="660.6" y1="45.5" x2="662" y2="109" stroke="#4a4a4a" stroke-width="1.1" stroke-linecap="butt"/>
<line x1="570.2" y1="44.6" x2="586.2" y2="42.85" stroke="#a0a0a0" stroke-width="1.9" stroke-linecap="butt"/>
<line x1="586.2" y1="42.85" x2="602.2" y2="41.1" stroke="#8a0a0a" stroke-width="1.9" stroke-linecap="butt"/>
<line x1="622" y1="70.7" x2="612.1" y2="55.9" stroke="#a0a0a0" stroke-width="1.9" stroke-linecap="butt"/>
<line x1="612.1" y1="55.9" x2="602.2" y2="41.1" stroke="#8a0a0a" stroke-width="1.9" stroke-linecap="butt"/>
<line x1="672.8" y1="32.6" x2="657.55" y2="34.3" stroke="#a0a0a0" stroke-width="1.9" stroke-linecap="butt"/>
<line x1="657.55" y1="34.3" x2="642.3" y2="36" stroke="#8a0a0a" stroke-width="1.9" stroke-linecap="butt"/>
<line x1="622" y1="70.7" x2="632.15" y2="53.35" stroke="#a0a0a0" stroke-width="1.9" stroke-linecap="butt"/>
<line x1="632.15" y1="53.35" x2="642.3" y2="36" stroke="#8a0a0a" stroke-width="1.9" stroke-linecap="butt"/>
<line x1="582.8" y1="31.6" x2="590.45" y2="48.7" stroke="#a0a0a0" stroke-width="1.9" stroke-linecap="butt"/>
<line x1="590.45" y1="48.7" x2="598.1" y2="65.8" stroke="#8a0a0a" stroke-width="1.9" stroke-linecap="butt"/>
<line x1="583" y1="94.5" x2="590.55" y2="80.15" stroke="#a0a0a0" stroke-width="1.9" stroke-linecap="butt"/>
<line x1="590.55" y1="80.15" x2="598.1" y2="65.8" stroke="#8a0a0a" stroke-width="1.9" stroke-linecap="butt"/>
<line x1="622" y1="70.7" x2="610.05" y2="68.25" stroke="#a0a0a0" stroke-width="1.9" stroke-linecap="butt"/>
<line x1="610.05" y1="68.25" x2="598.1" y2="65.8" stroke="#8a0a0a" stroke-width="1.9" stroke-linecap="butt"/>
<line x1="660.6" y1="45.5" x2="653.3" y2="60" stroke="#a0a0a0" stroke-width="1.9" stroke-linecap="butt"/>
<line x1="653.3" y1="60" x2="646" y2="74.5" stroke="#8a0a0a" stroke-width="1.9" stroke-linecap="butt"/>
<line x1="662" y1="109" x2="654" y2="91.75" stroke="#a0a0a0" stroke-width="1.9" stroke-linecap="butt"/>
<line x1="654" y1="91.75" x2="646" y2="74.5" stroke="#8a0a0a" stroke-width="1.9" stroke-linecap="butt"/>
<line x1="622" y1="70.7" x2="634" y2="72.6" stroke="#a0a0a0" stroke-width="1.9" stroke-linecap="butt"/>
<line x1="634" y1="72.6" x2="646" y2="74.5" stroke="#8a0a0a" stroke-width="1.9" stroke-linecap="butt"/>
<line x1="570.8" y1="107.7" x2="586.6" y2="106" stroke="#a0a0a0" stroke-width="1.9" stroke-linecap="butt"/>
<line x1="586.6" y1="106" x2="602.4" y2="104.3" stroke="#8a0a0a" stroke-width="1.9" stroke-linecap="butt"/>
<line x1="622" y1="70.7" x2="612.2" y2="87.5" stroke="#a0a0a0" stroke-width="1.9" stroke-linecap="butt"/>
<line x1="612.2" y1="87.5" x2="602.4" y2="104.3" stroke="#8a0a0a" stroke-width="1.9" stroke-linecap="butt"/>
<line x1="674" y1="96" x2="657.95" y2="97.8" stroke="#a0a0a0" stroke-width="1.9" stroke-linecap="butt"/>
<line x1="657.95" y1="97.8" x2="641.9" y2="99.6" stroke="#8a0a0a" stroke-width="1.9" stroke-linecap="butt"/>
<line x1="622" y1="70.7" x2="631.95" y2="85.15" stroke="#a0a0a0" stroke-width="1.9" stroke-linecap="butt"/>
<line x1="631.95" y1="85.15" x2="641.9" y2="99.6" stroke="#8a0a0a" stroke-width="1.9" stroke-linecap="butt"/>
<circle cx="582.8" cy="31.6" r="8.7" fill="url(#sg)" stroke="#7a7a7a" stroke-width="0.5"/>
<text x="582.5" y="34.4" font-family="'Liberation Serif', 'Times New Roman', serif" font-size="8.4" font-weight="bold" font-style="normal" text-anchor="middle" fill="#111">Sn</text>
<circle cx="672.8" cy="32.6" r="8.7" fill="url(#sg)" stroke="#7a7a7a" stroke-width="0.5"/>
<text x="672.5" y="35.4" font-family="'Liberation Serif', 'Times New Roman', serif" font-size="8.4" font-weight="bold" font-style="normal" text-anchor="middle" fill="#111">Sn</text>
<circle cx="570.2" cy="44.6" r="8.7" fill="url(#sg)" stroke="#7a7a7a" stroke-width="0.5"/>
<text x="569.9" y="47.4" font-family="'Liberation Serif', 'Times New Roman', serif" font-size="8.4" font-weight="bold" font-style="normal" text-anchor="middle" fill="#111">Sn</text>
<circle cx="660.6" cy="45.5" r="8.7" fill="url(#sg)" stroke="#7a7a7a" stroke-width="0.5"/>
<text x="660.3" y="48.3" font-family="'Liberation Serif', 'Times New Roman', serif" font-size="8.4" font-weight="bold" font-style="normal" text-anchor="middle" fill="#111">Sn</text>
<circle cx="622" cy="70.7" r="8.7" fill="url(#sg)" stroke="#7a7a7a" stroke-width="0.5"/>
<text x="621.7" y="73.5" font-family="'Liberation Serif', 'Times New Roman', serif" font-size="8.4" font-weight="bold" font-style="normal" text-anchor="middle" fill="#111">Sn</text>
<circle cx="583" cy="94.5" r="8.7" fill="url(#sg)" stroke="#7a7a7a" stroke-width="0.5"/>
<text x="582.7" y="97.3" font-family="'Liberation Serif', 'Times New Roman', serif" font-size="8.4" font-weight="bold" font-style="normal" text-anchor="middle" fill="#111">Sn</text>
<circle cx="674" cy="96" r="8.7" fill="url(#sg)" stroke="#7a7a7a" stroke-width="0.5"/>
<text x="673.7" y="98.8" font-family="'Liberation Serif', 'Times New Roman', serif" font-size="8.4" font-weight="bold" font-style="normal" text-anchor="middle" fill="#111">Sn</text>
<circle cx="570.8" cy="107.7" r="8.7" fill="url(#sg)" stroke="#7a7a7a" stroke-width="0.5"/>
<text x="570.5" y="110.5" font-family="'Liberation Serif', 'Times New Roman', serif" font-size="8.4" font-weight="bold" font-style="normal" text-anchor="middle" fill="#111">Sn</text>
<circle cx="662" cy="109" r="8.7" fill="url(#sg)" stroke="#7a7a7a" stroke-width="0.5"/>
<text x="661.7" y="111.8" font-family="'Liberation Serif', 'Times New Roman', serif" font-size="8.4" font-weight="bold" font-style="normal" text-anchor="middle" fill="#111">Sn</text>
<circle cx="602.2" cy="41.1" r="4.6" fill="#800810"/>
<text x="602.2" y="43.8" font-family="'Liberation Serif', 'Times New Roman', serif" font-size="7.5" font-weight="bold" font-style="normal" text-anchor="middle" fill="#fff">O</text>
<circle cx="642.3" cy="36" r="4.6" fill="#800810"/>
<text x="642.3" y="38.7" font-family="'Liberation Serif', 'Times New Roman', serif" font-size="7.5" font-weight="bold" font-style="normal" text-anchor="middle" fill="#fff">O</text>
<circle cx="598.1" cy="65.8" r="4.6" fill="#800810"/>
<text x="598.1" y="68.5" font-family="'Liberation Serif', 'Times New Roman', serif" font-size="7.5" font-weight="bold" font-style="normal" text-anchor="middle" fill="#fff">O</text>
<circle cx="646" cy="74.5" r="4.6" fill="#800810"/>
<text x="646" y="77.2" font-family="'Liberation Serif', 'Times New Roman', serif" font-size="7.5" font-weight="bold" font-style="normal" text-anchor="middle" fill="#fff">O</text>
<circle cx="602.4" cy="104.3" r="4.6" fill="#800810"/>
<text x="602.4" y="107" font-family="'Liberation Serif', 'Times New Roman', serif" font-size="7.5" font-weight="bold" font-style="normal" text-anchor="middle" fill="#fff">O</text>
<circle cx="641.9" cy="99.6" r="4.6" fill="#800810"/>
<text x="641.9" y="102.3" font-family="'Liberation Serif', 'Times New Roman', serif" font-size="7.5" font-weight="bold" font-style="normal" text-anchor="middle" fill="#fff">O</text>
<text x="624.6" y="138.9" font-family="'Liberation Serif', 'Times New Roman', serif" font-size="15.2" font-weight="bold" font-style="italic" text-anchor="middle" fill="#000">Pnnm</text>
<line x1="570.5" y1="154.8" x2="652" y2="152" stroke="#4a4a4a" stroke-width="1.1" stroke-linecap="butt"/>
<line x1="592.5" y1="158.5" x2="672.8" y2="156.4" stroke="#4a4a4a" stroke-width="1.1" stroke-linecap="butt"/>
<line x1="570.3" y1="211.8" x2="652" y2="211.4" stroke="#4a4a4a" stroke-width="1.1" stroke-linecap="butt"/>
<line x1="592.9" y1="217.3" x2="673.5" y2="215.6" stroke="#4a4a4a" stroke-width="1.1" stroke-linecap="butt"/>
<line x1="570.5" y1="154.8" x2="592.5" y2="158.5" stroke="#4a4a4a" stroke-width="1.1" stroke-linecap="butt"/>
<line x1="652" y1="152" x2="672.8" y2="156.4" stroke="#4a4a4a" stroke-width="1.1" stroke-linecap="butt"/>
<line x1="570.3" y1="211.8" x2="592.9" y2="217.3" stroke="#4a4a4a" stroke-width="1.1" stroke-linecap="butt"/>
<line x1="652" y1="211.4" x2="673.5" y2="215.6" stroke="#4a4a4a" stroke-width="1.1" stroke-linecap="butt"/>
<line x1="570.5" y1="154.8" x2="570.3" y2="211.8" stroke="#4a4a4a" stroke-width="1.1" stroke-linecap="butt"/>
<line x1="592.5" y1="158.5" x2="592.9" y2="217.3" stroke="#4a4a4a" stroke-width="1.1" stroke-linecap="butt"/>
<line x1="652" y1="152" x2="652" y2="211.4" stroke="#4a4a4a" stroke-width="1.1" stroke-linecap="butt"/>
<line x1="672.8" y1="156.4" x2="673.5" y2="215.6" stroke="#4a4a4a" stroke-width="1.1" stroke-linecap="butt"/>
<line x1="592.5" y1="158.5" x2="602.85" y2="157.7" stroke="#a0a0a0" stroke-width="1.9" stroke-linecap="butt"/>
<line x1="602.85" y1="157.7" x2="613.2" y2="156.9" stroke="#8a0a0a" stroke-width="1.9" stroke-linecap="butt"/>
<line x1="622.3" y1="185" x2="617.75" y2="170.95" stroke="#a0a0a0" stroke-width="1.9" stroke-linecap="butt"/>
<line x1="617.75" y1="170.95" x2="613.2" y2="156.9" stroke="#8a0a0a" stroke-width="1.9" stroke-linecap="butt"/>
<line x1="652" y1="152" x2="641.6" y2="152.9" stroke="#a0a0a0" stroke-width="1.9" stroke-linecap="butt"/>
<line x1="641.6" y1="152.9" x2="631.2" y2="153.8" stroke="#8a0a0a" stroke-width="1.9" stroke-linecap="butt"/>
<line x1="622.3" y1="185" x2="626.75" y2="169.4" stroke="#a0a0a0" stroke-width="1.9" stroke-linecap="butt"/>
<line x1="626.75" y1="169.4" x2="631.2" y2="153.8" stroke="#8a0a0a" stroke-width="1.9" stroke-linecap="butt"/>
<line x1="570.5" y1="154.8" x2="579.8" y2="169.8" stroke="#a0a0a0" stroke-width="1.9" stroke-linecap="butt"/>
<line x1="579.8" y1="169.8" x2="589.1" y2="184.8" stroke="#8a0a0a" stroke-width="1.9" stroke-linecap="butt"/>
<line x1="570.3" y1="211.8" x2="579.7" y2="198.3" stroke="#a0a0a0" stroke-width="1.9" stroke-linecap="butt"/>
<line x1="579.7" y1="198.3" x2="589.1" y2="184.8" stroke="#8a0a0a" stroke-width="1.9" stroke-linecap="butt"/>
<line x1="622.3" y1="185" x2="605.7" y2="184.9" stroke="#a0a0a0" stroke-width="1.9" stroke-linecap="butt"/>
<line x1="605.7" y1="184.9" x2="589.1" y2="184.8" stroke="#8a0a0a" stroke-width="1.9" stroke-linecap="butt"/>
<line x1="672.8" y1="156.4" x2="664.1" y2="170.9" stroke="#a0a0a0" stroke-width="1.9" stroke-linecap="butt"/>
<line x1="664.1" y1="170.9" x2="655.4" y2="185.4" stroke="#8a0a0a" stroke-width="1.9" stroke-linecap="butt"/>
<line x1="673.5" y1="215.6" x2="664.45" y2="200.5" stroke="#a0a0a0" stroke-width="1.9" stroke-linecap="butt"/>
<line x1="664.45" y1="200.5" x2="655.4" y2="185.4" stroke="#8a0a0a" stroke-width="1.9" stroke-linecap="butt"/>
<line x1="622.3" y1="185" x2="638.85" y2="185.2" stroke="#a0a0a0" stroke-width="1.9" stroke-linecap="butt"/>
<line x1="638.85" y1="185.2" x2="655.4" y2="185.4" stroke="#8a0a0a" stroke-width="1.9" stroke-linecap="butt"/>
<line x1="592.9" y1="217.3" x2="603.15" y2="216.4" stroke="#a0a0a0" stroke-width="1.9" stroke-linecap="butt"/>
<line x1="603.15" y1="216.4" x2="613.4" y2="215.5" stroke="#8a0a0a" stroke-width="1.9" stroke-linecap="butt"/>
<line x1="622.3" y1="185" x2="617.85" y2="200.25" stroke="#a0a0a0" stroke-width="1.9" stroke-linecap="butt"/>
<line x1="617.85" y1="200.25" x2="613.4" y2="215.5" stroke="#8a0a0a" stroke-width="1.9" stroke-linecap="butt"/>
<line x1="652" y1="211.4" x2="641.6" y2="211.9" stroke="#a0a0a0" stroke-width="1.9" stroke-linecap="butt"/>
<line x1="641.6" y1="211.9" x2="631.2" y2="212.4" stroke="#8a0a0a" stroke-width="1.9" stroke-linecap="butt"/>
<line x1="622.3" y1="185" x2="626.75" y2="198.7" stroke="#a0a0a0" stroke-width="1.9" stroke-linecap="butt"/>
<line x1="626.75" y1="198.7" x2="631.2" y2="212.4" stroke="#8a0a0a" stroke-width="1.9" stroke-linecap="butt"/>
<circle cx="570.5" cy="154.8" r="8.2" fill="url(#sg)" stroke="#7a7a7a" stroke-width="0.5"/>
<text x="570.2" y="157.6" font-family="'Liberation Serif', 'Times New Roman', serif" font-size="8.4" font-weight="bold" font-style="normal" text-anchor="middle" fill="#111">Sn</text>
<circle cx="592.5" cy="158.5" r="8.2" fill="url(#sg)" stroke="#7a7a7a" stroke-width="0.5"/>
<text x="592.2" y="161.3" font-family="'Liberation Serif', 'Times New Roman', serif" font-size="8.4" font-weight="bold" font-style="normal" text-anchor="middle" fill="#111">Sn</text>
<circle cx="652" cy="152" r="8.2" fill="url(#sg)" stroke="#7a7a7a" stroke-width="0.5"/>
<text x="651.7" y="154.8" font-family="'Liberation Serif', 'Times New Roman', serif" font-size="8.4" font-weight="bold" font-style="normal" text-anchor="middle" fill="#111">Sn</text>
<circle cx="672.8" cy="156.4" r="8.2" fill="url(#sg)" stroke="#7a7a7a" stroke-width="0.5"/>
<text x="672.5" y="159.2" font-family="'Liberation Serif', 'Times New Roman', serif" font-size="8.4" font-weight="bold" font-style="normal" text-anchor="middle" fill="#111">Sn</text>
<circle cx="622.3" cy="185" r="8.2" fill="url(#sg)" stroke="#7a7a7a" stroke-width="0.5"/>
<text x="622" y="187.8" font-family="'Liberation Serif', 'Times New Roman', serif" font-size="8.4" font-weight="bold" font-style="normal" text-anchor="middle" fill="#111">Sn</text>
<circle cx="570.3" cy="211.8" r="8.2" fill="url(#sg)" stroke="#7a7a7a" stroke-width="0.5"/>
<text x="570" y="214.6" font-family="'Liberation Serif', 'Times New Roman', serif" font-size="8.4" font-weight="bold" font-style="normal" text-anchor="middle" fill="#111">Sn</text>
<circle cx="592.9" cy="217.3" r="8.2" fill="url(#sg)" stroke="#7a7a7a" stroke-width="0.5"/>
<text x="592.6" y="220.1" font-family="'Liberation Serif', 'Times New Roman', serif" font-size="8.4" font-weight="bold" font-style="normal" text-anchor="middle" fill="#111">Sn</text>
<circle cx="652" cy="211.4" r="8.2" fill="url(#sg)" stroke="#7a7a7a" stroke-width="0.5"/>
<text x="651.7" y="214.2" font-family="'Liberation Serif', 'Times New Roman', serif" font-size="8.4" font-weight="bold" font-style="normal" text-anchor="middle" fill="#111">Sn</text>
<circle cx="673.5" cy="215.6" r="8.2" fill="url(#sg)" stroke="#7a7a7a" stroke-width="0.5"/>
<text x="673.2" y="218.4" font-family="'Liberation Serif', 'Times New Roman', serif" font-size="8.4" font-weight="bold" font-style="normal" text-anchor="middle" fill="#111">Sn</text>
<circle cx="613.2" cy="156.9" r="4.4" fill="#800810"/>
<text x="613.2" y="159.6" font-family="'Liberation Serif', 'Times New Roman', serif" font-size="7.5" font-weight="bold" font-style="normal" text-anchor="middle" fill="#fff">O</text>
<circle cx="631.2" cy="153.8" r="4.4" fill="#800810"/>
<text x="631.2" y="156.5" font-family="'Liberation Serif', 'Times New Roman', serif" font-size="7.5" font-weight="bold" font-style="normal" text-anchor="middle" fill="#fff">O</text>
<circle cx="589.1" cy="184.8" r="4.4" fill="#800810"/>
<text x="589.1" y="187.5" font-family="'Liberation Serif', 'Times New Roman', serif" font-size="7.5" font-weight="bold" font-style="normal" text-anchor="middle" fill="#fff">O</text>
<circle cx="655.4" cy="185.4" r="4.4" fill="#800810"/>
<text x="655.4" y="188.1" font-family="'Liberation Serif', 'Times New Roman', serif" font-size="7.5" font-weight="bold" font-style="normal" text-anchor="middle" fill="#fff">O</text>
<circle cx="613.4" cy="215.5" r="4.4" fill="#800810"/>
<text x="613.4" y="218.2" font-family="'Liberation Serif', 'Times New Roman', serif" font-size="7.5" font-weight="bold" font-style="normal" text-anchor="middle" fill="#fff">O</text>
<circle cx="631.2" cy="212.4" r="4.4" fill="#800810"/>
<text x="631.2" y="215.1" font-family="'Liberation Serif', 'Times New Roman', serif" font-size="7.5" font-weight="bold" font-style="normal" text-anchor="middle" fill="#fff">O</text>
<text x="624.2" y="245.5" font-family="'Liberation Serif', 'Times New Roman', serif" font-size="17.5" font-weight="bold" font-style="italic" text-anchor="middle" fill="#000">Pa3</text>
<line x1="631.3" y1="231.6" x2="638" y2="231.6" stroke="#000" stroke-width="1.3" stroke-linecap="butt"/>
<line x1="570" y1="353.4" x2="570" y2="258.8" stroke="#4a4a4a" stroke-width="1.1" stroke-linecap="butt"/>
<line x1="570" y1="353.4" x2="581.9" y2="359.7" stroke="#4a4a4a" stroke-width="1.1" stroke-linecap="butt"/>
<line x1="570" y1="353.4" x2="661.3" y2="353" stroke="#4a4a4a" stroke-width="1.1" stroke-linecap="butt"/>
<line x1="570" y1="258.8" x2="581.9" y2="265.1" stroke="#4a4a4a" stroke-width="1.1" stroke-linecap="butt"/>
<line x1="570" y1="258.8" x2="661.3" y2="258.4" stroke="#4a4a4a" stroke-width="1.1" stroke-linecap="butt"/>
<line x1="581.9" y1="359.7" x2="581.9" y2="265.1" stroke="#4a4a4a" stroke-width="1.1" stroke-linecap="butt"/>
<line x1="581.9" y1="359.7" x2="673.2" y2="359.3" stroke="#4a4a4a" stroke-width="1.1" stroke-linecap="butt"/>
<line x1="581.9" y1="265.1" x2="673.2" y2="264.7" stroke="#4a4a4a" stroke-width="1.1" stroke-linecap="butt"/>
<line x1="661.3" y1="353" x2="661.3" y2="258.4" stroke="#4a4a4a" stroke-width="1.1" stroke-linecap="butt"/>
<line x1="661.3" y1="353" x2="673.2" y2="359.3" stroke="#4a4a4a" stroke-width="1.1" stroke-linecap="butt"/>
<line x1="661.3" y1="258.4" x2="673.2" y2="264.7" stroke="#4a4a4a" stroke-width="1.1" stroke-linecap="butt"/>
<line x1="673.2" y1="359.3" x2="673.2" y2="264.7" stroke="#4a4a4a" stroke-width="1.1" stroke-linecap="butt"/>
<line x1="581.9" y1="265.1" x2="585.1" y2="270.5" stroke="#a0a0a0" stroke-width="1.9" stroke-linecap="butt"/>
<line x1="585.1" y1="270.5" x2="588.3" y2="275.9" stroke="#8a0a0a" stroke-width="1.9" stroke-linecap="butt"/>
<line x1="575.95" y1="309.25" x2="582.12" y2="292.57" stroke="#a0a0a0" stroke-width="1.9" stroke-linecap="butt"/>
<line x1="582.12" y1="292.57" x2="588.3" y2="275.9" stroke="#8a0a0a" stroke-width="1.9" stroke-linecap="butt"/>
<line x1="621.6" y1="261.75" x2="604.95" y2="268.82" stroke="#a0a0a0" stroke-width="1.9" stroke-linecap="butt"/>
<line x1="604.95" y1="268.82" x2="588.3" y2="275.9" stroke="#8a0a0a" stroke-width="1.9" stroke-linecap="butt"/>
<line x1="581.9" y1="265.1" x2="596.95" y2="272.15" stroke="#a0a0a0" stroke-width="1.9" stroke-linecap="butt"/>
<line x1="596.95" y1="272.15" x2="612" y2="279.2" stroke="#8a0a0a" stroke-width="1.9" stroke-linecap="butt"/>
<line x1="621.6" y1="261.75" x2="616.8" y2="270.48" stroke="#a0a0a0" stroke-width="1.9" stroke-linecap="butt"/>
<line x1="616.8" y1="270.48" x2="612" y2="279.2" stroke="#8a0a0a" stroke-width="1.9" stroke-linecap="butt"/>
<line x1="627.55" y1="312.2" x2="619.77" y2="295.7" stroke="#a0a0a0" stroke-width="1.9" stroke-linecap="butt"/>
<line x1="619.77" y1="295.7" x2="612" y2="279.2" stroke="#8a0a0a" stroke-width="1.9" stroke-linecap="butt"/>
<line x1="621.6" y1="261.75" x2="627.75" y2="278.02" stroke="#a0a0a0" stroke-width="1.9" stroke-linecap="butt"/>
<line x1="627.75" y1="278.02" x2="633.9" y2="294.3" stroke="#8a0a0a" stroke-width="1.9" stroke-linecap="butt"/>
<line x1="615.65" y1="305.9" x2="624.77" y2="300.1" stroke="#a0a0a0" stroke-width="1.9" stroke-linecap="butt"/>
<line x1="624.77" y1="300.1" x2="633.9" y2="294.3" stroke="#8a0a0a" stroke-width="1.9" stroke-linecap="butt"/>
<line x1="673.2" y1="264.7" x2="665.85" y2="281.25" stroke="#a0a0a0" stroke-width="1.9" stroke-linecap="butt"/>
<line x1="665.85" y1="281.25" x2="658.5" y2="297.8" stroke="#8a0a0a" stroke-width="1.9" stroke-linecap="butt"/>
<line x1="627.55" y1="312.2" x2="643.02" y2="305" stroke="#a0a0a0" stroke-width="1.9" stroke-linecap="butt"/>
<line x1="643.02" y1="305" x2="658.5" y2="297.8" stroke="#8a0a0a" stroke-width="1.9" stroke-linecap="butt"/>
<line x1="667.25" y1="308.85" x2="662.88" y2="303.32" stroke="#a0a0a0" stroke-width="1.9" stroke-linecap="butt"/>
<line x1="662.88" y1="303.32" x2="658.5" y2="297.8" stroke="#8a0a0a" stroke-width="1.9" stroke-linecap="butt"/>
<line x1="575.95" y1="309.25" x2="580.92" y2="315.77" stroke="#a0a0a0" stroke-width="1.9" stroke-linecap="butt"/>
<line x1="580.92" y1="315.77" x2="585.9" y2="322.3" stroke="#8a0a0a" stroke-width="1.9" stroke-linecap="butt"/>
<line x1="570" y1="353.4" x2="577.95" y2="337.85" stroke="#a0a0a0" stroke-width="1.9" stroke-linecap="butt"/>
<line x1="577.95" y1="337.85" x2="585.9" y2="322.3" stroke="#8a0a0a" stroke-width="1.9" stroke-linecap="butt"/>
<line x1="615.65" y1="305.9" x2="600.77" y2="314.1" stroke="#a0a0a0" stroke-width="1.9" stroke-linecap="butt"/>
<line x1="600.77" y1="314.1" x2="585.9" y2="322.3" stroke="#8a0a0a" stroke-width="1.9" stroke-linecap="butt"/>
<line x1="627.55" y1="312.2" x2="618.88" y2="318.6" stroke="#a0a0a0" stroke-width="1.9" stroke-linecap="butt"/>
<line x1="618.88" y1="318.6" x2="610.2" y2="325" stroke="#8a0a0a" stroke-width="1.9" stroke-linecap="butt"/>
<line x1="621.6" y1="356.35" x2="615.9" y2="340.67" stroke="#a0a0a0" stroke-width="1.9" stroke-linecap="butt"/>
<line x1="615.9" y1="340.67" x2="610.2" y2="325" stroke="#8a0a0a" stroke-width="1.9" stroke-linecap="butt"/>
<line x1="615.65" y1="305.9" x2="623.88" y2="322.95" stroke="#a0a0a0" stroke-width="1.9" stroke-linecap="butt"/>
<line x1="623.88" y1="322.95" x2="632.1" y2="340" stroke="#8a0a0a" stroke-width="1.9" stroke-linecap="butt"/>
<line x1="621.6" y1="356.35" x2="626.85" y2="348.17" stroke="#a0a0a0" stroke-width="1.9" stroke-linecap="butt"/>
<line x1="626.85" y1="348.17" x2="632.1" y2="340" stroke="#8a0a0a" stroke-width="1.9" stroke-linecap="butt"/>
<line x1="667.25" y1="308.85" x2="661.83" y2="326.07" stroke="#a0a0a0" stroke-width="1.9" stroke-linecap="butt"/>
<line x1="661.83" y1="326.07" x2="656.4" y2="343.3" stroke="#8a0a0a" stroke-width="1.9" stroke-linecap="butt"/>
<line x1="673.2" y1="359.3" x2="664.8" y2="351.3" stroke="#a0a0a0" stroke-width="1.9" stroke-linecap="butt"/>
<line x1="664.8" y1="351.3" x2="656.4" y2="343.3" stroke="#8a0a0a" stroke-width="1.9" stroke-linecap="butt"/>
<line x1="621.6" y1="356.35" x2="639" y2="349.82" stroke="#a0a0a0" stroke-width="1.9" stroke-linecap="butt"/>
<line x1="639" y1="349.82" x2="656.4" y2="343.3" stroke="#8a0a0a" stroke-width="1.9" stroke-linecap="butt"/>
<line x1="633.9" y1="294.3" x2="658.5" y2="297.8" stroke="#8a0a0a" stroke-width="1.9" stroke-linecap="butt"/>
<line x1="585.9" y1="322.3" x2="610.2" y2="325" stroke="#8a0a0a" stroke-width="1.9" stroke-linecap="butt"/>
<line x1="632.1" y1="340" x2="656.4" y2="343.3" stroke="#8a0a0a" stroke-width="1.9" stroke-linecap="butt"/>
<circle cx="570" cy="353.4" r="8.4" fill="url(#sg)" stroke="#7a7a7a" stroke-width="0.5"/>
<text x="569.7" y="356.2" font-family="'Liberation Serif', 'Times New Roman', serif" font-size="8.4" font-weight="bold" font-style="normal" text-anchor="middle" fill="#111">Sn</text>
<circle cx="570" cy="258.8" r="8.4" fill="url(#sg)" stroke="#7a7a7a" stroke-width="0.5"/>
<text x="569.7" y="261.6" font-family="'Liberation Serif', 'Times New Roman', serif" font-size="8.4" font-weight="bold" font-style="normal" text-anchor="middle" fill="#111">Sn</text>
<circle cx="661.3" cy="353" r="8.4" fill="url(#sg)" stroke="#7a7a7a" stroke-width="0.5"/>
<text x="661" y="355.8" font-family="'Liberation Serif', 'Times New Roman', serif" font-size="8.4" font-weight="bold" font-style="normal" text-anchor="middle" fill="#111">Sn</text>
<circle cx="661.3" cy="258.4" r="8.4" fill="url(#sg)" stroke="#7a7a7a" stroke-width="0.5"/>
<text x="661" y="261.2" font-family="'Liberation Serif', 'Times New Roman', serif" font-size="8.4" font-weight="bold" font-style="normal" text-anchor="middle" fill="#111">Sn</text>
<circle cx="615.65" cy="305.9" r="8.4" fill="url(#sg)" stroke="#7a7a7a" stroke-width="0.5"/>
<text x="615.35" y="308.7" font-family="'Liberation Serif', 'Times New Roman', serif" font-size="8.4" font-weight="bold" font-style="normal" text-anchor="middle" fill="#111">Sn</text>
<circle cx="621.6" cy="356.35" r="8.4" fill="url(#sg)" stroke="#7a7a7a" stroke-width="0.5"/>
<text x="621.3" y="359.15" font-family="'Liberation Serif', 'Times New Roman', serif" font-size="8.4" font-weight="bold" font-style="normal" text-anchor="middle" fill="#111">Sn</text>
<circle cx="621.6" cy="261.75" r="8.4" fill="url(#sg)" stroke="#7a7a7a" stroke-width="0.5"/>
<text x="621.3" y="264.55" font-family="'Liberation Serif', 'Times New Roman', serif" font-size="8.4" font-weight="bold" font-style="normal" text-anchor="middle" fill="#111">Sn</text>
<circle cx="575.95" cy="309.25" r="8.4" fill="url(#sg)" stroke="#7a7a7a" stroke-width="0.5"/>
<text x="575.65" y="312.05" font-family="'Liberation Serif', 'Times New Roman', serif" font-size="8.4" font-weight="bold" font-style="normal" text-anchor="middle" fill="#111">Sn</text>
<circle cx="667.25" cy="308.85" r="8.4" fill="url(#sg)" stroke="#7a7a7a" stroke-width="0.5"/>
<text x="666.95" y="311.65" font-family="'Liberation Serif', 'Times New Roman', serif" font-size="8.4" font-weight="bold" font-style="normal" text-anchor="middle" fill="#111">Sn</text>
<circle cx="581.9" cy="359.7" r="8.4" fill="url(#sg)" stroke="#7a7a7a" stroke-width="0.5"/>
<text x="581.6" y="362.5" font-family="'Liberation Serif', 'Times New Roman', serif" font-size="8.4" font-weight="bold" font-style="normal" text-anchor="middle" fill="#111">Sn</text>
<circle cx="581.9" cy="265.1" r="8.4" fill="url(#sg)" stroke="#7a7a7a" stroke-width="0.5"/>
<text x="581.6" y="267.9" font-family="'Liberation Serif', 'Times New Roman', serif" font-size="8.4" font-weight="bold" font-style="normal" text-anchor="middle" fill="#111">Sn</text>
<circle cx="673.2" cy="359.3" r="8.4" fill="url(#sg)" stroke="#7a7a7a" stroke-width="0.5"/>
<text x="672.9" y="362.1" font-family="'Liberation Serif', 'Times New Roman', serif" font-size="8.4" font-weight="bold" font-style="normal" text-anchor="middle" fill="#111">Sn</text>
<circle cx="673.2" cy="264.7" r="8.4" fill="url(#sg)" stroke="#7a7a7a" stroke-width="0.5"/>
<text x="672.9" y="267.5" font-family="'Liberation Serif', 'Times New Roman', serif" font-size="8.4" font-weight="bold" font-style="normal" text-anchor="middle" fill="#111">Sn</text>
<circle cx="627.55" cy="312.2" r="8.4" fill="url(#sg)" stroke="#7a7a7a" stroke-width="0.5"/>
<text x="627.25" y="315" font-family="'Liberation Serif', 'Times New Roman', serif" font-size="8.4" font-weight="bold" font-style="normal" text-anchor="middle" fill="#111">Sn</text>
<circle cx="588.3" cy="275.9" r="4.4" fill="#800810"/>
<text x="588.3" y="278.6" font-family="'Liberation Serif', 'Times New Roman', serif" font-size="7.5" font-weight="bold" font-style="normal" text-anchor="middle" fill="#fff">O</text>
<circle cx="612" cy="279.2" r="4.4" fill="#800810"/>
<text x="612" y="281.9" font-family="'Liberation Serif', 'Times New Roman', serif" font-size="7.5" font-weight="bold" font-style="normal" text-anchor="middle" fill="#fff">O</text>
<circle cx="633.9" cy="294.3" r="4.4" fill="#800810"/>
<text x="633.9" y="297" font-family="'Liberation Serif', 'Times New Roman', serif" font-size="7.5" font-weight="bold" font-style="normal" text-anchor="middle" fill="#fff">O</text>
<circle cx="658.5" cy="297.8" r="4.4" fill="#800810"/>
<text x="658.5" y="300.5" font-family="'Liberation Serif', 'Times New Roman', serif" font-size="7.5" font-weight="bold" font-style="normal" text-anchor="middle" fill="#fff">O</text>
<circle cx="585.9" cy="322.3" r="4.4" fill="#800810"/>
<text x="585.9" y="325" font-family="'Liberation Serif', 'Times New Roman', serif" font-size="7.5" font-weight="bold" font-style="normal" text-anchor="middle" fill="#fff">O</text>
<circle cx="610.2" cy="325" r="4.4" fill="#800810"/>
<text x="610.2" y="327.7" font-family="'Liberation Serif', 'Times New Roman', serif" font-size="7.5" font-weight="bold" font-style="normal" text-anchor="middle" fill="#fff">O</text>
<circle cx="632.1" cy="340" r="4.4" fill="#800810"/>
<text x="632.1" y="342.7" font-family="'Liberation Serif', 'Times New Roman', serif" font-size="7.5" font-weight="bold" font-style="normal" text-anchor="middle" fill="#fff">O</text>
<circle cx="656.4" cy="343.3" r="4.4" fill="#800810"/>
<text x="656.4" y="346" font-family="'Liberation Serif', 'Times New Roman', serif" font-size="7.5" font-weight="bold" font-style="normal" text-anchor="middle" fill="#fff">O</text>
</svg>
</body></html>
